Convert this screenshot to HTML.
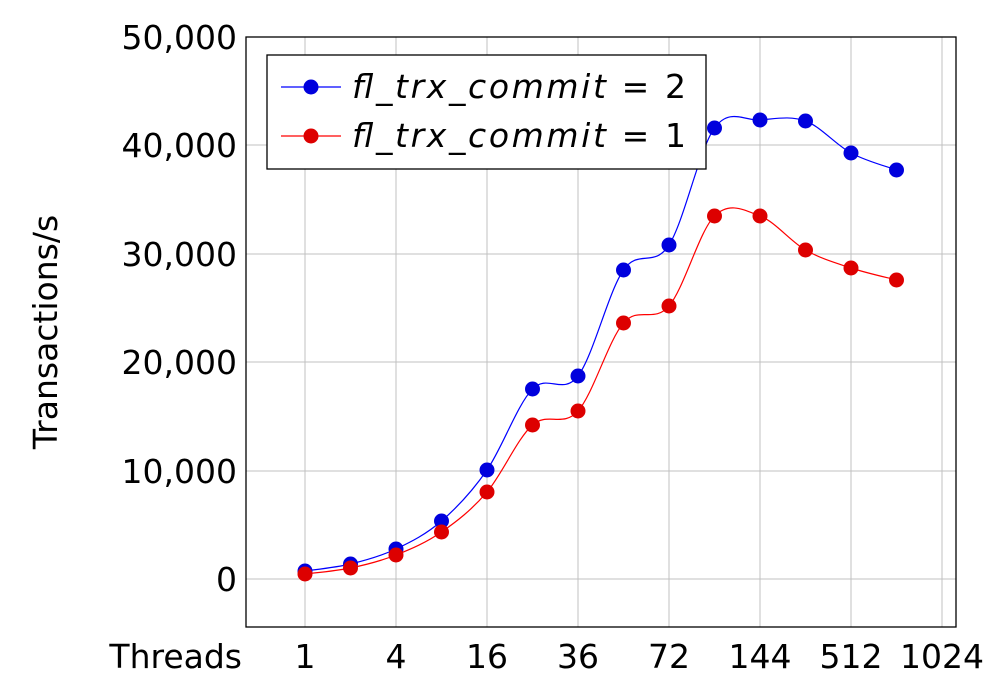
<!DOCTYPE html>
<html><head><meta charset="utf-8"><style>
html,body{margin:0;padding:0;background:#fff;width:1008px;height:696px;overflow:hidden}
svg text{font-family:"DejaVu Sans","Liberation Sans",sans-serif;fill:#000}
</style></head><body>
<svg id="s" width="1008" height="696" viewBox="0 0 1008 696" xmlns="http://www.w3.org/2000/svg">
<g stroke="#c0c0c0" stroke-width="1">
<line x1="305" y1="37" x2="305" y2="627"/><line x1="396" y1="37" x2="396" y2="627"/><line x1="487" y1="37" x2="487" y2="627"/><line x1="578" y1="37" x2="578" y2="627"/><line x1="669" y1="37" x2="669" y2="627"/><line x1="760" y1="37" x2="760" y2="627"/><line x1="851" y1="37" x2="851" y2="627"/><line x1="942" y1="37" x2="942" y2="627"/>
<line x1="246" y1="579" x2="956" y2="579"/><line x1="246" y1="471" x2="956" y2="471"/><line x1="246" y1="362" x2="956" y2="362"/><line x1="246" y1="254" x2="956" y2="254"/><line x1="246" y1="145" x2="956" y2="145"/>
</g>
<g id="series"></g>
<rect x="246" y="37" width="710" height="590" fill="none" stroke="#000" stroke-width="1.3"/>
<g font-size="33" text-anchor="end">
<text x="237" y="591">0</text><text x="237" y="483">10,000</text><text x="237" y="374">20,000</text><text x="237" y="266">30,000</text><text x="237" y="157">40,000</text><text x="237" y="49">50,000</text>
</g>
<g font-size="33" text-anchor="middle">
<text x="305" y="668">1</text><text x="396" y="668">4</text><text x="487" y="668">16</text><text x="578" y="668">36</text><text x="669" y="668">72</text><text x="760" y="668">144</text><text x="851" y="668">512</text><text x="942" y="668">1024</text>
</g>
<text x="242" y="668" font-size="33" text-anchor="end">Threads</text>
<text transform="translate(57,332) rotate(-90)" font-size="33" text-anchor="middle">Transactions/s</text>
<rect x="267" y="55" width="439" height="114" fill="#fff" stroke="#000" stroke-width="1.3"/>
<line x1="281" y1="87" x2="341" y2="87" stroke="#0000ff" stroke-width="1.2"/><circle cx="311" cy="87" r="7.5" fill="#0000dd"/>
<line x1="281" y1="136" x2="341" y2="136" stroke="#ff0000" stroke-width="1.2"/><circle cx="311" cy="136" r="7.5" fill="#dd0000"/>
<g font-size="33" font-style="italic">
<text x="352" y="98" textLength="334" lengthAdjust="spacing">fl_trx_commit <tspan font-style="normal">= 2</tspan></text>
<text x="352" y="147" textLength="334" lengthAdjust="spacing">fl_trx_commit <tspan font-style="normal">= 1</tspan></text>
</g>
</svg>
<script>
const xs=[305,350.5,396,441.5,487,532.5,578,623.5,669,714.5,760,805.5,851,896.5];
const b=[571,564,549,521,470,389,376,270,245,128,120,121,153,170];
const r=[574,568,555,532,492,425,411,323,306,216,216,250,268,280];
function path(ys){let p=`M${xs[0]},${ys[0]}`;const k=0.5/3;
for(let i=0;i<xs.length-1;i++){const x0=xs[Math.max(i-1,0)],y0=ys[Math.max(i-1,0)],x3=xs[Math.min(i+2,xs.length-1)],y3=ys[Math.min(i+2,xs.length-1)];
const c1x=xs[i]+(xs[i+1]-x0)*k,c1y=ys[i]+(ys[i+1]-y0)*k,c2x=xs[i+1]-(x3-xs[i])*k,c2y=ys[i+1]-(y3-ys[i])*k;
p+=` C${c1x},${c1y} ${c2x},${c2y} ${xs[i+1]},${ys[i+1]}`;}return p;}
const g=document.getElementById('series');let h='';
[[b,'#0000ff','#0000dd'],[r,'#ff0000','#dd0000']].forEach(([ys,c,f])=>{h+=`<path d="${path(ys)}" fill="none" stroke="${c}" stroke-width="1.2"/>`;
ys.forEach((y,i)=>h+=`<circle cx="${xs[i]}" cy="${y}" r="7.5" fill="${f}"/>`);});
g.innerHTML=h;
</script>
</body></html>
